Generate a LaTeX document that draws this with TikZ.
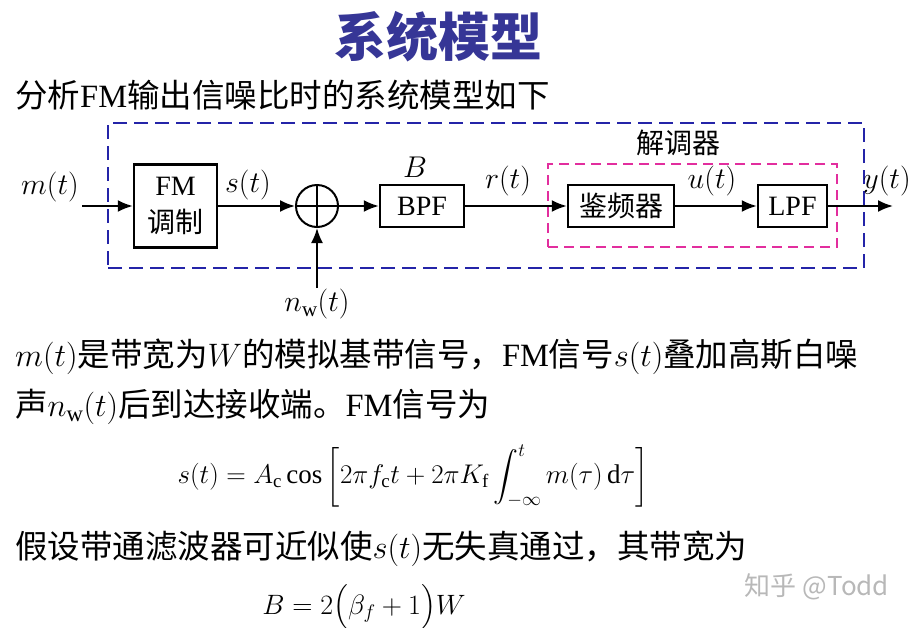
\documentclass[tikz,border=0pt]{standalone}
\usepackage{fix-cm}
\usepackage{amsmath}
\usepackage{fontspec}
\setmainfont{Liberation Serif}
\newfontfamily\cjk{Noto Sans CJK SC}
\newcommand{\zh}[1]{{\cjk #1}}
\usepackage{xcolor}
\usepackage{tikz}
\usetikzlibrary{arrows.meta,calc,positioning}
\definecolor{Slate}{HTML}{363696}
\definecolor{Navy}{HTML}{2424A8}
\definecolor{Magenta}{HTML}{E22E9E}
\definecolor{Ash}{HTML}{B8B8B8}

\begin{document}
\begin{tikzpicture}[x=1pt,y=-1pt,
    blk/.style={draw,line width=2.4pt,inner sep=0pt,align=center,font=\fontsize{28}{37}\selectfont},
    lbl/.style={inner sep=0pt,font=\fontsize{30}{32}\selectfont},
    sig/.style={-{Latex[length=15pt,width=12pt]},line width=2pt},
    txt/.style={anchor=west,inner sep=0pt,font=\fontsize{32.5}{36}\selectfont}]
  \useasboundingbox (0,0) rectangle (920,627);

  \node[inner sep=0pt,font=\cjk\bfseries\fontsize{52}{56}\selectfont,text=Slate] (title) at (438,37) {系统模型};
  \node[txt] (intro) at (15,95) {\zh{分析}FM\zh{输出信噪比时的系统模型如下}};

  % system and demodulator frames
  \node[draw=Navy,dash pattern=on 14pt off 7pt,line width=2pt,minimum width=756,minimum height=145] (sys) at (486,195.5) {};
  \node[draw=Magenta,dash pattern=on 10pt off 6pt,line width=2pt,minimum width=289,minimum height=83] (demod) at (692.5,205.5) {};
  \node[lbl,font=\cjk\fontsize{28}{32}\selectfont] (demodname) at (678,143) {解调器};

  % blocks
  \node[blk,minimum width=83,minimum height=83] (fm) at (175.5,206) {FM\\\zh{调制}};
  \node[draw,circle,line width=2pt,minimum size=42,inner sep=0pt] (sum) at (317,206) {};
  \draw[line width=2pt] (sum.north) -- (sum.south) (sum.west) -- (sum.east);
  \node[blk,minimum width=84,minimum height=42] (bpf) at (422,206) {BPF};
  \node[blk,minimum width=106,minimum height=42] (disc) at (621,206) {\zh{鉴频器}};
  \node[blk,minimum width=69,minimum height=42] (lpf) at (792.5,206) {LPF};

  \coordinate (in) at (82,206);
  \coordinate (noise) at (317,288);
  \coordinate (out) at (893,206);

  \draw[sig] (in) -- (fm.west);
  \draw[sig] (fm.east) -- (sum.west);
  \draw[sig] (noise) -- (sum.south);
  \draw[sig] (sum.east) -- (bpf.west);
  \draw[sig] (bpf.east) -- (disc.west);
  \draw[sig] (disc.east) -- (lpf.west);
  \draw[sig] (lpf.east) -- (out);

  % signal names
  \node[lbl] (mname) at (50,187) {$m(t)$};
  \node[lbl] (sname) at (248,185) {$s(t)$};
  \node[lbl] (bname) at (415,167) {$B$};
  \node[lbl] (rname) at (508,181) {$r(t)$};
  \node[lbl] (uname) at (712,181) {$u(t)$};
  \node[lbl] (yname) at (887,181) {$y(t)$};
  \node[lbl] (nname) at (317,304) {$n_{\mathrm{w}}(t)$};

  % explanation
  \node[txt] (para1) at (15,357) {$m(t)$\zh{是带宽为}$W$\zh{的模拟基带信号，}FM\zh{信号}$s(t)$\zh{叠加高斯白噪}};
  \node[txt] (para2) at (15,407) {\zh{声}$n_{\mathrm{w}}(t)$\zh{后到达接收端。}FM\zh{信号为}};
  \node[inner sep=0pt,font=\fontsize{27}{32}\selectfont] (fmeq) at (413,476)
    {$\displaystyle s(t)=A_{\mathrm{c}}\cos\left[2\pi f_{\mathrm{c}}t+2\pi K_{\mathrm{f}}\int_{-\infty}^{t}m(\tau)\,\mathrm{d}\tau\right]$};
  \node[txt] (para3) at (15,549) {\zh{假设带通滤波器可近似使}$s(t)$\zh{无失真通过，其带宽为}};
  \node[inner sep=0pt,font=\fontsize{28}{32}\selectfont] (bweq) at (364,607) {$B=2\bigl(\beta_f+1\bigr)W$};
  \node[inner sep=0pt,font=\cjk\fontsize{26}{30}\selectfont,text=Ash] (mark) at (817,587) {知乎 @Todd};
\end{tikzpicture}
\end{document}
